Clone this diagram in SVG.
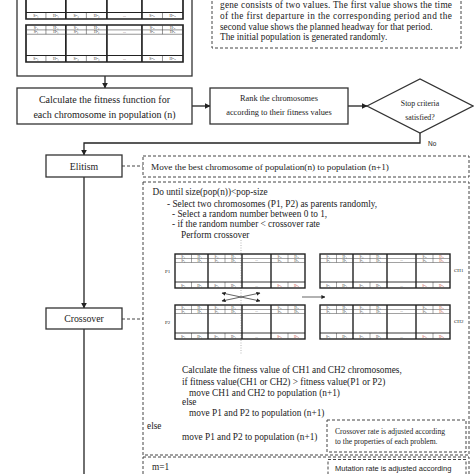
<svg xmlns="http://www.w3.org/2000/svg" xmlns:xlink="http://www.w3.org/1999/xlink" width="474" height="474" viewBox="0 0 474 474">
<style>
  .box{fill:#fff;stroke:#333;stroke-width:1.3}
  .dash{fill:none;stroke:#444;stroke-width:1;stroke-dasharray:3 2}
  .ln{fill:none;stroke:#222;stroke-width:1.3}
  .t{font-family:"Liberation Serif","Times New Roman",serif;fill:#222}
  .s{font-family:"Liberation Sans",Arial,sans-serif;fill:#222}
  .tk{stroke:#222;stroke-width:1.4;fill:none}
  .tn{stroke:#444;stroke-width:0.5;fill:none}
  .tm{stroke:#222;stroke-width:0.9;fill:none}
  .g{font-family:"Liberation Serif","DejaVu Serif",serif;font-size:3.2px;fill:#333;text-anchor:middle}
  .c1{fill:currentColor}
  .c2{fill:var(--b,#333)}
</style>
<defs>
  <marker id="ah" viewBox="0 0 10 10" refX="9" refY="5" markerWidth="6" markerHeight="6" orient="auto-start-reverse" markerUnits="userSpaceOnUse">
    <path d="M0,0 L10,5 L0,10 z" fill="#222"/>
  </marker>
  <marker id="ahs" viewBox="0 0 10 10" refX="9" refY="5" markerWidth="4" markerHeight="4" orient="auto-start-reverse" markerUnits="userSpaceOnUse">
    <path d="M0,0 L10,5 L0,10 z" fill="#222"/>
  </marker>
  <g id="tbl">
    <rect x="0" y="0" width="130" height="34" class="tk"/>
    <path class="tk" d="M33,0V34M67,0V34M96,0V34"/>
    <path class="tn" d="M0,4.5H130M0,8.5H130M16.5,0V8.5M50,0V8.5M113,0V8.5M16.5,28V34M50,28V34M113,28V34"/>
    <path class="tm" d="M0,28H130"/>
    <text class="g" x="8.25" y="3.6">S¹₁</text><text class="g" x="24.75" y="3.6">H¹₁</text>
    <text class="g" x="41.5" y="3.6">S¹₂</text><text class="g" x="58.5" y="3.6">H¹₂</text>
    <text class="g" x="104.5" y="3.6">S¹ₙ</text><text class="g c1" x="121.5" y="3.6">H¹ₙ</text>
    <text class="g" x="8.25" y="7.6">S²₁</text><text class="g" x="24.75" y="7.6">H²₁</text>
    <text class="g" x="41.5" y="7.6">S²₂</text><text class="g" x="58.5" y="7.6">H²₂</text>
    <text class="g" x="104.5" y="7.6">S²ₙ</text><text class="g c1" x="121.5" y="7.6">H²ₙ</text>
    <text class="g" x="81.5" y="7.4">...</text>
    <text class="g" x="8.25" y="32.5">Sᵐ₁</text><text class="g" x="24.75" y="32.5">Hᵐ₁</text>
    <text class="g" x="41.5" y="32.5">Sᵐ₂</text><text class="g" x="58.5" y="32.5">Hᵐ₂</text>
    <text class="g" x="81.5" y="32.5">...</text>
    <text class="g c2" x="104.5" y="32.5">Sᵐₙ</text><text class="g c2" x="121.5" y="32.5">Hᵐₙ</text>
  </g>
</defs>
<rect width="474" height="474" fill="#fff"/>

<g id="connectors">
  <line class="ln" x1="105" y1="76" x2="105" y2="88" marker-end="url(#ah)"/>
  <line class="ln" x1="192" y1="106" x2="210" y2="106" marker-end="url(#ah)"/>
  <line class="ln" x1="348" y1="106" x2="367" y2="106" marker-end="url(#ah)"/>
  <polyline class="ln" points="420,133 420,143 84,143 84,155" marker-end="url(#ah)"/>
  <line class="ln" x1="84" y1="177" x2="84" y2="308" marker-end="url(#ah)"/>
  <line class="ln" x1="84" y1="329" x2="84" y2="474"/>
  <line class="dash" x1="122" y1="166" x2="143" y2="166"/>
  <line class="dash" x1="122" y1="319" x2="143" y2="319"/>
  <text class="s" x="428" y="146" font-size="6.5">No</text>
</g>

<g id="init-population">
  <rect class="box" x="17" y="-3" width="175" height="79"/>
  <use xlink:href="#tbl" transform="translate(26,-18) scale(1.2077,1.088)" style="color:#333;--b:#333"/>
  <use xlink:href="#tbl" transform="translate(26,25) scale(1.2077,1.088)" style="color:#333;--b:#333"/>
</g>

<g id="init-note">
  <rect class="dash" x="212" y="-5" width="249" height="53"/>
  <text class="t" font-size="9.3" x="220" y="8" textLength="232" lengthAdjust="spacing">gene consists of two values. The first value shows the time</text>
  <text class="t" font-size="9.3" x="220" y="18.8" textLength="232" lengthAdjust="spacing">of the first departure in the corresponding period and the</text>
  <text class="t" font-size="9.3" x="220" y="29.6">second value shows the planned headway for that period.</text>
  <text class="t" font-size="9.3" x="220" y="40.4">The initial population is generated randomly.</text>
</g>

<g id="fitness">
  <rect class="box" x="17" y="88" width="175" height="36"/>
  <text class="t" font-size="10" x="104.5" y="103.3" text-anchor="middle">Calculate the fitness function for</text>
  <text class="t" font-size="10" x="104.5" y="117.5" text-anchor="middle">each chromosome in population (n)</text>
</g>

<g id="rank">
  <rect class="box" x="210" y="88" width="138" height="36"/>
  <text class="t" font-size="8.3" x="279" y="101.3" text-anchor="middle">Rank the chromosomes</text>
  <text class="t" font-size="8.3" x="279" y="115.3" text-anchor="middle">according to their fitness values</text>
</g>

<g id="stop">
  <polygon class="box" points="367,106 420,79 473,106 420,133"/>
  <text class="t" font-size="7.8" x="420" y="105.5" text-anchor="middle">Stop criteria</text>
  <text class="t" font-size="7.8" x="420" y="119.8" text-anchor="middle">satisfied?</text>
</g>

<g id="elitism">
  <rect class="box" x="46" y="155" width="76" height="22"/>
  <text class="t" font-size="9.8" x="84" y="169.5" text-anchor="middle">Elitism</text>
</g>

<g id="elitism-note">
  <rect class="dash" x="143" y="156" width="326" height="21"/>
  <text class="t" font-size="9.2" x="151" y="169.5">Move the best chromosome of population(n) to population (n+1)</text>
</g>

<g id="crossover">
  <rect class="box" x="46" y="308" width="76" height="21"/>
  <text class="t" font-size="9.8" x="84" y="322" text-anchor="middle">Crossover</text>
</g>

<g id="crossover-note">
  <rect class="dash" x="143" y="182" width="326" height="273"/>
  <text class="t" font-size="9.3" x="152.5" y="195">Do until size(pop(n))&lt;pop-size</text>
  <text class="t" font-size="9.3" x="167" y="207">- Select two chromosomes (P1, P2) as parents randomly,</text>
  <text class="t" font-size="9.3" x="172" y="216.8">- Select a random number between 0 to 1,</text>
  <text class="t" font-size="9.3" x="172" y="226.8">- if the random number &lt; crossover rate</text>
  <text class="t" font-size="9.3" x="181" y="238">Perform crossover</text>
  <line x1="241" y1="240" x2="241" y2="355" stroke="#888" stroke-width="0.6" stroke-dasharray="1 1.5"/>
  <text class="t" font-size="5" x="165" y="273">P1</text>
  <text class="t" font-size="5" x="165" y="324">P2</text>
  <use xlink:href="#tbl" transform="translate(175,254)" style="color:#333;--b:#c0392b"/>
  <use xlink:href="#tbl" transform="translate(175,305)" style="color:#333;--b:#c0392b"/>
  <use xlink:href="#tbl" transform="translate(320,254)" style="color:#c0392b;--b:#c0392b"/>
  <use xlink:href="#tbl" transform="translate(320,305)" style="color:#c0392b;--b:#c0392b"/>
  <text class="t" font-size="5" x="454" y="272">CH1</text>
  <text class="t" font-size="5" x="454" y="323">CH2</text>
  <line x1="222" y1="293" x2="260" y2="301" stroke="#222" stroke-width="0.7" marker-start="url(#ahs)" marker-end="url(#ahs)"/>
  <line x1="222" y1="301" x2="260" y2="293" stroke="#222" stroke-width="0.7" marker-start="url(#ahs)" marker-end="url(#ahs)"/>
  <line x1="302" y1="297" x2="325" y2="297" stroke="#222" stroke-width="0.7" marker-end="url(#ahs)"/>
  <text class="t" font-size="9.3" x="182" y="372.5">Calculate the fitness value of CH1 and CH2 chromosomes,</text>
  <text class="t" font-size="9.3" x="182" y="384.5">if fitness value(CH1 or CH2) &gt; fitness value(P1 or P2)</text>
  <text class="t" font-size="9.3" x="189" y="395.5">move CH1 and CH2 to population (n+1)</text>
  <text class="t" font-size="9.3" x="182" y="405">else</text>
  <text class="t" font-size="9.3" x="189" y="416">move P1 and P2 to population (n+1)</text>
  <text class="t" font-size="9.3" x="147" y="429">else</text>
  <text class="t" font-size="9.3" x="182" y="440">move P1 and P2 to population (n+1)</text>
  <rect class="dash" x="327" y="420" width="139" height="32"/>
  <text class="t" font-size="7.6" x="335" y="434">Crossover rate is adjusted according</text>
  <text class="t" font-size="7.6" x="335" y="444">to the properties of each problem.</text>
</g>

<g id="mutation-note">
  <rect class="dash" x="143" y="457" width="326" height="25"/>
  <text class="t" font-size="9.3" x="152" y="469.5">m=1</text>
  <rect class="dash" x="328" y="459.5" width="138" height="22"/>
  <text class="s" font-size="7.5" x="335" y="471.2">Mutation rate is adjusted according</text>
</g>
</svg>
